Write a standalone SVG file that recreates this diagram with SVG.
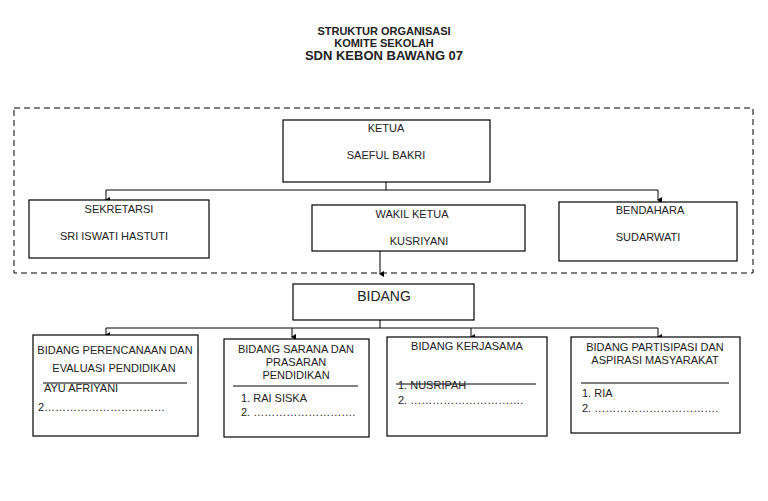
<svg xmlns="http://www.w3.org/2000/svg" width="768" height="501" viewBox="0 0 768 501">
<style>
text{font-family:"Liberation Sans",Arial,sans-serif;font-size:11px;fill:#222;text-anchor:middle}
.b{fill:#fff;stroke:#000;stroke-width:1.2}
.l{stroke:#000;stroke-width:1;fill:none}
.s{text-anchor:start}
</style>
<defs><marker id="a" markerWidth="6" markerHeight="6" refX="3" refY="5" orient="auto" markerUnits="userSpaceOnUse"><path d="M0,1L6,1L3,6z" fill="#000"/></marker></defs>
<rect width="768" height="501" fill="#fff"/>
<text x="384" y="35" style="font-weight:bold">STRUKTUR ORGANISASI</text>
<text x="384" y="47" style="font-weight:bold">KOMITE SEKOLAH</text>
<text x="384" y="60" style="font-weight:bold;font-size:13px">SDN KEBON BAWANG 07</text>
<rect x="14" y="108" width="739" height="165" fill="none" stroke="#000" stroke-dasharray="6,4"/>
<g id="connectors">
<path class="l" d="M386,182V190M106,190H658M106,190V200" marker-end="url(#a)"/>
<path class="l" d="M658,190V200" marker-end="url(#a)"/>
<path class="l" d="M380,251V274" marker-end="url(#a)"/>
<path class="l" d="M380,320V328M106,328H658M106,328V335" marker-end="url(#a)"/>
<path class="l" d="M292,328V337" marker-end="url(#a)"/>
<path class="l" d="M471,328V337" marker-end="url(#a)"/>
<path class="l" d="M658,328V337" marker-end="url(#a)"/>
</g>
<g id="ketua"><rect class="b" x="283" y="120" width="207" height="62"/><text x="386" y="132">KETUA</text><text x="386" y="159">SAEFUL BAKRI</text></g>
<g id="sekretaris"><rect class="b" x="29" y="200" width="180" height="58"/><text x="119" y="213">SEKRETARSI</text><text x="114" y="240">SRI ISWATI HASTUTI</text></g>
<g id="wakil"><rect class="b" x="312" y="205" width="213" height="46"/><text x="412" y="218">WAKIL KETUA</text><text x="419" y="245">KUSRIYANI</text></g>
<g id="bendahara"><rect class="b" x="559" y="202" width="178" height="59"/><text x="650" y="214">BENDAHARA</text><text x="648" y="241">SUDARWATI</text></g>
<g id="bidang"><rect class="b" x="293" y="284" width="181" height="36"/><text x="384" y="301" style="font-size:14px">BIDANG</text></g>
<g id="b1"><rect class="b" x="33" y="335" width="165" height="101"/><text x="115" y="354">BIDANG PERENCANAAN DAN</text><text x="114" y="372">EVALUASI PENDIDIKAN</text><path class="l" d="M43,383H187"/><text class="s" x="44" y="392">AYU AFRIYANI</text><text class="s" x="38" y="411">2……………………………</text></g>
<g id="b2"><rect class="b" x="224" y="339" width="145" height="98"/><text x="296" y="353">BIDANG SARANA DAN</text><text x="296" y="366">PRASARAN</text><text x="296" y="379">PENDIDIKAN</text><path class="l" d="M233,386H358"/><text class="s" x="241" y="402">1. RAI SISKA</text><text class="s" x="241" y="416">2. ……………………….</text></g>
<g id="b3"><rect class="b" x="387" y="337" width="160" height="99"/><text x="467" y="350">BIDANG KERJASAMA</text><path class="l" d="M396,384H536"/><text class="s" x="398" y="389">1.  NUSRIPAH</text><text class="s" x="398" y="404">2. ………………………….</text></g>
<g id="b4"><rect class="b" x="571" y="337" width="169" height="96"/><text x="655" y="351">BIDANG PARTISIPASI DAN</text><text x="655" y="364">ASPIRASI MASYARAKAT</text><path class="l" d="M581,383H729"/><text class="s" x="582" y="397">1.  RIA</text><text class="s" x="582" y="412">2. …………………………….</text></g>
</svg>
